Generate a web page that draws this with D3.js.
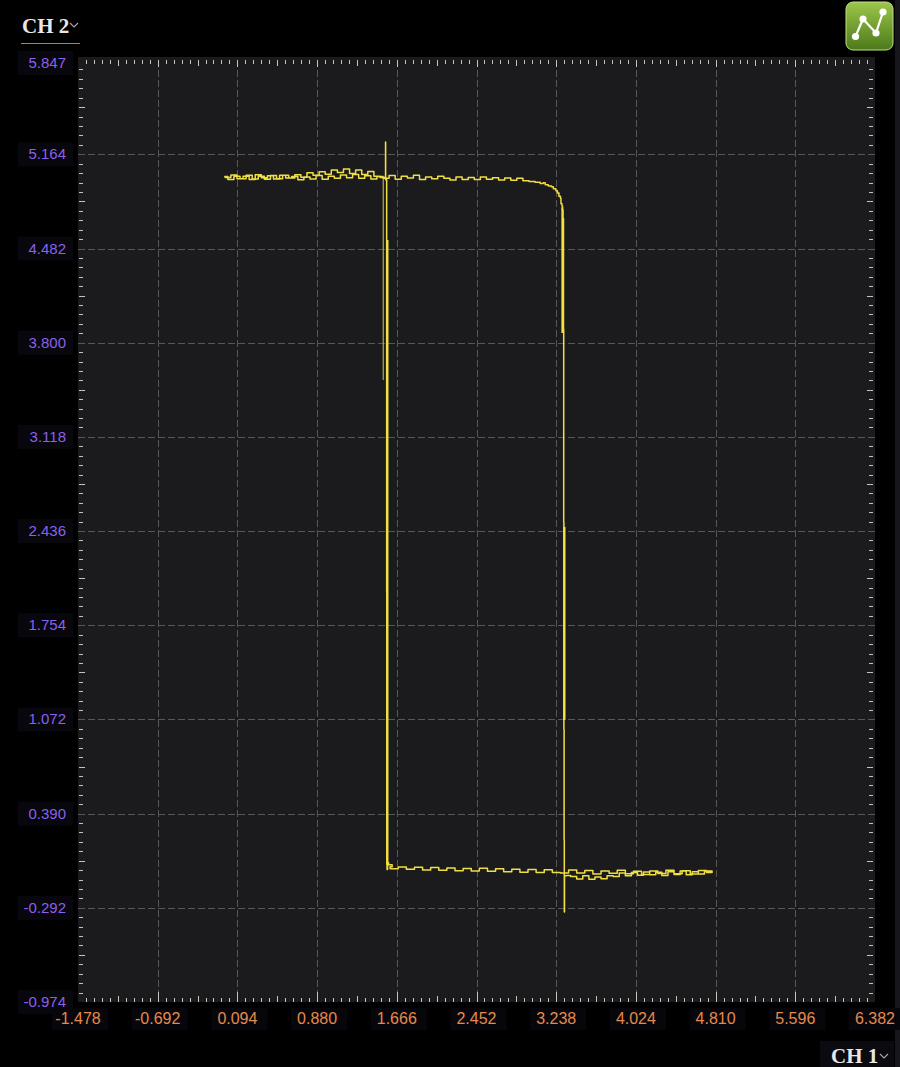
<!DOCTYPE html>
<html>
<head>
<meta charset="utf-8">
<script src="https://cdn.jsdelivr.net/npm/d3@7"></script>
<style>
  html, body { margin: 0; padding: 0; background: #000; }
  svg { display: block; }
</style>
</head>
<body>
<div class="chart"></div>
<script>
// axis labels as shown on the scope
const xTickLabels = ["-1.478", "-0.692", "0.094", "0.880", "1.666", "2.452", "3.238", "4.024", "4.810", "5.596", "6.382"];
const yTickLabels = ["-0.974", "-0.292", "0.390", "1.072", "1.754", "2.436", "3.118", "3.800", "4.482", "5.164", "5.847"];

// CH1 rising: top rail, left to right
const topFwdX = [-0.03, 0.03, 0.09, 0.15, 0.21, 0.27, 0.33, 0.39, 0.45, 0.51, 0.57, 0.63, 0.69, 0.75, 0.81, 0.87, 0.93, 0.99, 1.05, 1.11,
                 1.17, 1.23, 1.29, 1.35, 1.41, 1.47, 1.53, 1.59, 1.65, 1.71, 1.77, 1.83, 1.89, 1.95, 2.01, 2.07, 2.13, 2.19, 2.25, 2.31,
                 2.37, 2.43, 2.49, 2.55, 2.61, 2.67, 2.73, 2.79, 2.85, 2.91, 2.97];
const topFwdY = [4.996, 5.014, 4.988, 5.006, 4.982, 5.016, 4.994, 5.008, 4.986, 5.012, 4.992, 5.004, 4.980, 5.000, 4.986, 5.010, 4.984, 5.006, 4.990, 5.014,
                 4.994, 5.018, 4.990, 5.008, 4.986, 5.004, 4.990, 5.010, 4.984, 5.006, 4.992, 5.012, 4.982, 5.000, 4.988, 5.006, 4.990, 4.978, 5.000, 4.982,
                 4.996, 4.982, 5.000, 4.984, 4.994, 4.978, 4.992, 4.976, 4.990, 4.972, 4.968];

// knee before the switch and the fall at the upper threshold
const fallX = [3.03, 3.08, 3.11, 3.13, 3.16, 3.19, 3.21, 3.235, 3.25, 3.265, 3.28, 3.285, 3.295, 3.30, 3.305, 3.310, 3.312, 3.314, 3.316, 3.318, 3.320, 3.34];
const fallY = [4.962, 4.952, 4.958, 4.944, 4.934, 4.930, 4.914, 4.900, 4.884, 4.860, 4.846, 4.806, 4.790, 4.762, 4.700, 3.900, 2.500, 1.000, 0.200, -0.322, -0.060, -0.058];

// CH1 rising: bottom rail after the switch
const botFwdX = [3.38, 3.44, 3.50, 3.56, 3.62, 3.68, 3.74, 3.80, 3.86, 3.92, 3.98, 4.04, 4.10, 4.16, 4.22, 4.28, 4.34, 4.40, 4.46, 4.52, 4.58, 4.64, 4.70, 4.775];
const botFwdY = [-0.066, -0.084, -0.060, -0.086, -0.068, -0.082, -0.060, -0.066, -0.040, -0.060, -0.036, -0.056, -0.032, -0.052, -0.034, -0.058, -0.030, -0.050, -0.026, -0.052, -0.030, -0.048, -0.026, -0.036];

// CH1 falling: bottom rail, right to left
const botBackX = [4.72, 4.64, 4.56, 4.48, 4.40, 4.32, 4.24, 4.16, 4.08, 4.00, 3.92, 3.84, 3.76, 3.68, 3.60, 3.52, 3.44, 3.36, 3.28, 3.20,
                  3.12, 3.04, 2.96, 2.88, 2.80, 2.72, 2.64, 2.56, 2.48, 2.40, 2.32, 2.24, 2.16, 2.08, 2.00, 1.92, 1.84, 1.76, 1.68, 1.60];
const botBackY = [-0.022, -0.048, -0.024, -0.046, -0.020, -0.044, -0.026, -0.050, -0.028, -0.046, -0.020, -0.042, -0.026, -0.048, -0.022, -0.040, -0.018, -0.040, -0.036, -0.016,
                  -0.036, -0.014, -0.034, -0.012, -0.030, -0.010, -0.028, -0.006, -0.026, -0.008, -0.024, -0.004, -0.020, 0.000, -0.018, 0.002, -0.012, 0.004, -0.010, 0.006];

// rise at the lower threshold (with the overshoot spike)
const riseX = [1.62, 1.585, 1.575, 1.570, 1.568, 1.566, 1.556, 1.555, 1.556];
const riseY = [0.020, 0.034, -0.014, 0.050, 2.000, 4.980, 5.000, 5.253, 4.996];

// CH1 falling: top rail back to the start
const topBackX = [1.50, 1.44, 1.38, 1.32, 1.26, 1.20, 1.14, 1.08, 1.02, 0.96, 0.90, 0.84, 0.78, 0.72, 0.66, 0.60, 0.54, 0.48, 0.42, 0.36,
                  0.30, 0.24, 0.18, 0.12, 0.06, 0.00, -0.03];
const topBackY = [5.006, 5.040, 5.018, 5.050, 5.026, 5.058, 5.032, 5.050, 5.020, 5.038, 5.012, 5.030, 4.998, 5.016, 4.992, 5.012, 4.988, 5.010, 4.984, 5.006,
                  4.986, 5.012, 4.988, 5.006, 4.982, 5.004, 4.996];

// repeated passes over the edges (drawn brighter)
const edgeX = [1.572, 3.318, 3.298, 1.532];
const edgeTop = [4.544, 2.466, 4.780, 4.990];
const edgeBottom = [0.020, 1.068, 3.870, 3.530];
const edgeWidth = [2.4, 2.4, 1.8, 1.0];

const W = 900, H = 1067;
const pLeft = 78, pRight = 875, pTop = 60, pBottom = 1002;

const xTicks = xTickLabels.map(Number);
const yTicks = yTickLabels.map(Number);

let x = d3.scaleLinear()
          .domain([xTicks[0], xTicks[xTicks.length - 1]])
          .range([pLeft, pRight]);
let y = d3.scaleLinear()
          .domain([yTicks[0], yTicks[yTicks.length - 1]])
          .range([pBottom, pTop]);

let svg = d3.select(".chart").append("svg")
    .attr("width", W)
    .attr("height", H)
    .style("font-family", "'Liberation Sans', Arial, sans-serif");

svg.append("rect").attr("width", W).attr("height", H).attr("fill", "#000");

// scrollbar strip on the right
svg.append("rect").attr("x", 895).attr("y", 0).attr("width", 5).attr("height", H).attr("fill", "#16161c");

// plot area
svg.append("rect")
    .attr("x", pLeft).attr("y", pTop - 3)
    .attr("width", pRight - pLeft).attr("height", pBottom - pTop + 3)
    .attr("fill", "#1b1b1e");

// dashed grid
let grid = svg.append("g").attr("stroke", "#575757").attr("stroke-width", 1).attr("stroke-dasharray", "7,3");
grid.selectAll(".vg")
    .data(xTicks.slice(1, -1))
    .enter().append("line")
    .attr("x1", function (d) { return Math.round(x(d)) + 0.5; })
    .attr("x2", function (d) { return Math.round(x(d)) + 0.5; })
    .attr("y1", pTop)
    .attr("y2", pBottom);
grid.selectAll(".hg")
    .data(yTicks.slice(1, -1))
    .enter().append("line")
    .attr("y1", function (d) { return Math.round(y(d)) + 0.5; })
    .attr("y2", function (d) { return Math.round(y(d)) + 0.5; })
    .attr("x1", pLeft)
    .attr("x2", pRight);

// minor ticks along the frame edges: 10 per division
function minorTicks(ticks) {
    let out = [];
    for (let i = 0; i < ticks.length - 1; i++) {
        let step = (ticks[i + 1] - ticks[i]) / 10;
        for (let k = 0; k < 10; k++) {
            out.push({ v: ticks[i] + k * step, k: k });
        }
    }
    out.push({ v: ticks[ticks.length - 1], k: 0 });
    return out;
}
function tickLen(k) { return k === 0 ? 7 : (k === 5 ? 6 : 4); }

let xm = minorTicks(xTicks), ym = minorTicks(yTicks);
let frame = svg.append("g").attr("stroke", "#c4c4c4").attr("stroke-width", 1);

frame.selectAll(".tt")
    .data(xm.slice(1, -1))
    .enter().append("line")
    .attr("x1", function (d) { return Math.round(x(d.v)) + 0.5; })
    .attr("x2", function (d) { return Math.round(x(d.v)) + 0.5; })
    .attr("y1", pTop)
    .attr("y2", function (d) { return pTop + tickLen(d.k); });
frame.selectAll(".bt")
    .data(xm.slice(1, -1))
    .enter().append("line")
    .attr("x1", function (d) { return Math.round(x(d.v)) + 0.5; })
    .attr("x2", function (d) { return Math.round(x(d.v)) + 0.5; })
    .attr("y1", pBottom)
    .attr("y2", function (d) { return pBottom - tickLen(d.k) - (d.k === 0 ? 3 : 0); });
frame.selectAll(".lt")
    .data(ym.slice(1, -1).filter(function (d) { return d.k !== 0; }))
    .enter().append("line")
    .attr("y1", function (d) { return Math.round(y(d.v)) + 0.5; })
    .attr("y2", function (d) { return Math.round(y(d.v)) + 0.5; })
    .attr("x1", pLeft + 1)
    .attr("x2", function (d) { return pLeft + 1 + (d.k === 5 ? 6 : 4); });
frame.selectAll(".rt")
    .data(ym.slice(1, -1).filter(function (d) { return d.k !== 0; }))
    .enter().append("line")
    .attr("y1", function (d) { return Math.round(y(d.v)) + 0.5; })
    .attr("y2", function (d) { return Math.round(y(d.v)) + 0.5; })
    .attr("x1", pRight - 2)
    .attr("x2", function (d) { return pRight - 2 - (d.k === 5 ? 6 : 4); });

// trace
function pts(xs, ys) { return xs.map(function (v, i) { return [v, ys[i]]; }); }

let sweep = [].concat(
    pts(topFwdX, topFwdY), pts(fallX, fallY), pts(botFwdX, botFwdY),
    pts(botBackX, botBackY), pts(riseX, riseY), pts(topBackX, topBackY)
);

let line = d3.line()
    .x(function (d) { return x(d[0]); })
    .y(function (d) { return y(d[1]); })
    .curve(d3.curveStepAfter);

let trace = svg.append("g").attr("fill", "none").attr("stroke-linejoin", "round");

trace.selectAll(".edge")
    .data(edgeX.map(function (v, i) { return { x: v, t: edgeTop[i], b: edgeBottom[i], w: edgeWidth[i] }; }))
    .enter().append("line")
    .attr("x1", function (d) { return x(d.x); })
    .attr("x2", function (d) { return x(d.x); })
    .attr("y1", function (d) { return y(d.t); })
    .attr("y2", function (d) { return y(d.b); })
    .attr("stroke", function (d) { return d.w > 1 ? "#f6e53a" : "#cfc26a"; })
    .attr("stroke-width", function (d) { return d.w; });

trace.append("path")
    .attr("d", line(sweep))
    .attr("stroke", "#efdf45")
    .attr("stroke-width", 1.5);

// y labels (CH 2)
let yl = svg.append("g");
yl.selectAll("rect")
    .data(yTicks)
    .enter().append("rect")
    .attr("x", 18).attr("width", 55)
    .attr("y", function (d, i) { return y(d) - 12 + (i === yTicks.length - 1 ? 3 : 0); })
    .attr("height", 24)
    .attr("fill", "#07070d");
yl.selectAll("text")
    .data(yTicks)
    .enter().append("text")
    .attr("x", 66)
    .attr("y", function (d, i) { return y(d) + 5 + (i === yTicks.length - 1 ? 3 : 0); })
    .attr("text-anchor", "end")
    .attr("font-size", 15)
    .attr("fill", "#8a60ec")
    .text(function (d, i) { return yTickLabels[i]; });

// x labels (CH 1)
let xl = svg.append("g");
xl.selectAll("rect")
    .data(xTicks)
    .enter().append("rect")
    .attr("x", function (d) { return x(d) - 26; })
    .attr("width", 56)
    .attr("y", 1008).attr("height", 22)
    .attr("fill", "#07070b");
xl.selectAll("text")
    .data(xTicks)
    .enter().append("text")
    .attr("x", function (d) { return x(d); })
    .attr("y", 1024)
    .attr("text-anchor", "middle")
    .attr("font-size", 16)
    .attr("fill", "#e58a4c")
    .text(function (d, i) { return xTickLabels[i]; });

// channel titles
function chevron(cx, cy) {
    svg.append("path")
        .attr("d", "M" + (cx - 4) + "," + (cy - 2) + " L" + cx + "," + (cy + 2) + " L" + (cx + 4) + "," + (cy - 2))
        .attr("fill", "none").attr("stroke", "#a8a8a8").attr("stroke-width", 1.1);
}
svg.append("text")
    .attr("x", 22).attr("y", 33)
    .attr("font-family", "'Liberation Serif', 'DejaVu Serif', serif")
    .attr("font-weight", "bold").attr("font-size", 21)
    .attr("fill", "#e8e8e8")
    .text("CH 2");
chevron(74, 25);
svg.append("line").attr("x1", 21).attr("x2", 80).attr("y1", 43.5).attr("y2", 43.5)
    .attr("stroke", "#8a8a8a").attr("stroke-width", 1);

svg.append("rect").attr("x", 820).attr("y", 1041).attr("width", 74).attr("height", 26).attr("fill", "#0a0a10");
svg.append("text")
    .attr("x", 831).attr("y", 1063)
    .attr("font-family", "'Liberation Serif', 'DejaVu Serif', serif")
    .attr("font-weight", "bold").attr("font-size", 21)
    .attr("fill", "#e8e8e8")
    .text("CH 1");
chevron(884, 1056);

// XY mode icon
let defs = svg.append("defs");
let grad = defs.append("linearGradient").attr("id", "ig").attr("x1", 0).attr("x2", 0).attr("y1", 0).attr("y2", 1);
grad.append("stop").attr("offset", "0%").attr("stop-color", "#9cc64a");
grad.append("stop").attr("offset", "100%").attr("stop-color", "#4c7a1a");
svg.append("rect")
    .attr("x", 846).attr("y", 2).attr("width", 47).attr("height", 48).attr("rx", 7)
    .attr("fill", "url(#ig)").attr("stroke", "#c2df8a").attr("stroke-width", 1);
let iconPts = [[855.5, 36.5], [863, 19], [876, 33], [883, 12]];
svg.append("path")
    .attr("d", d3.line()(iconPts))
    .attr("fill", "none").attr("stroke", "#fff").attr("stroke-width", 2.2);
svg.selectAll(".ip")
    .data(iconPts)
    .enter().append("circle")
    .attr("cx", function (d) { return d[0]; })
    .attr("cy", function (d) { return d[1]; })
    .attr("r", 3.6)
    .attr("fill", "#fff");
</script>
</body>
</html>
